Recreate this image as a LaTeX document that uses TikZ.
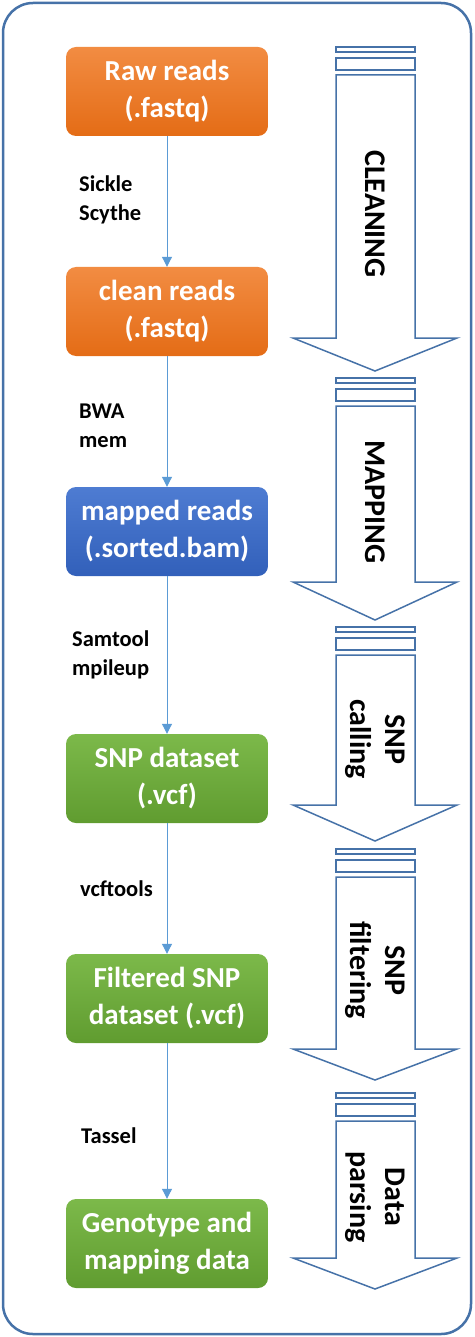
\documentclass[tikz,border=0pt]{standalone}
\usepackage{fontspec}
\setmainfont{Carlito}
\usepackage{tikz}
\usetikzlibrary{arrows.meta, positioning}
\definecolor{framecol}{RGB}{70,114,168}
\definecolor{flowcol}{RGB}{91,155,213}
\definecolor{orangetop}{RGB}{242,140,66}
\definecolor{orangebot}{RGB}{228,108,22}
\definecolor{bluetop}{RGB}{78,124,210}
\definecolor{bluebot}{RGB}{50,96,186}
\definecolor{greentop}{RGB}{124,185,74}
\definecolor{greenbot}{RGB}{96,156,48}
\tikzstyle{databox}   = [rectangle, rounded corners=10pt, minimum width=202pt, minimum height=89pt, align=center, text=white, font=\fontsize{29}{37}\selectfont\bfseries]
\tikzstyle{orangebox} = [databox, top color=orangetop, bottom color=orangebot]
\tikzstyle{bluebox}   = [databox, top color=bluetop, bottom color=bluebot]
\tikzstyle{greenbox}  = [databox, top color=greentop, bottom color=greenbot]
\tikzstyle{tool}      = [anchor=west, align=left, inner sep=0pt, font=\fontsize{22.5}{29}\selectfont\bfseries]
\tikzstyle{flow}      = [flowcol, line width=1pt, -{Triangle[width=10pt,length=10pt]}]
\tikzstyle{stage}     = [framecol, line width=1.5pt, fill=white, line join=miter]
\tikzstyle{stagetext} = [rotate=-90, align=center, inner sep=0pt, font=\fontsize{30}{35}\selectfont\bfseries]

\begin{document}
\begin{tikzpicture}[x=1pt, y=1pt, node distance=220pt]
    \useasboundingbox (0,0) rectangle (474,-1337);
    % Frame
    \draw [framecol, line width=2.5pt, rounded corners=30pt] (3,-3) rectangle (471,-1334);

    % Nodes
    \node (raw_reads)      [orangebox] at (167,-91.5)                 {Raw reads\\(.fastq)};
    \node (clean_reads)    [orangebox, below of=raw_reads]            {clean reads\\(.fastq)};
    \node (mapped_reads)   [bluebox, below of=clean_reads]            {mapped reads\\(.sorted.bam)};
    \node (snp_dataset)    [greenbox, below of=mapped_reads, yshift=-27pt] {SNP dataset\\(.vcf)};
    \node (filtered_snp)   [greenbox, below of=snp_dataset]           {Filtered SNP\\dataset (.vcf)};
    \node (genotype_data)  [greenbox, below of=filtered_snp, yshift=-25pt] {Genotype and\\mapping data};

    % Tools
    \node (tool_sickle)    [tool] at (79,-200)  {Sickle\\Scythe};
    \node (tool_bwa)       [tool] at (79,-426)  {BWA\\mem};
    \node (tool_samtool)   [tool] at (72,-655)  {Samtool\\mpileup};
    \node (tool_vcftools)  [tool] at (80,-889)  {vcftools};
    \node (tool_tassel)    [tool] at (81,-1136) {Tassel};

    % Arrows
    \draw [flow] (raw_reads)     -- (clean_reads);
    \draw [flow] (clean_reads)   -- (mapped_reads);
    \draw [flow] (mapped_reads)  -- (snp_dataset);
    \draw [flow] (snp_dataset)   -- (filtered_snp);
    \draw [flow] (filtered_snp)  -- (genotype_data);

    % Stages on the right
    \foreach \ytop/\ybase/\ytip/\ytext/\stagename [count=\i] in
      {47/338/371/214/CLEANING, 378/582/620/502/MAPPING, 627/805/841/739/{SNP\\calling},
       849/1049/1080/970/{SNP\\filtering}, 1093/1258/1289/1197/{Data\\parsing}} {
      \draw [stage] (336,-\ytop) rectangle (415,-\ytop-5);
      \draw [stage] (336,-\ytop-11) rectangle (415,-\ytop-23);
      \draw [stage] (336,-\ytop-28) -- (415,-\ytop-28) -- (415,-\ybase) -- (457,-\ybase)
                    -- (375,-\ytip) -- (293,-\ybase) -- (336,-\ybase) -- cycle;
      \node (stage\i) [stagetext] at (375,-\ytext) {\stagename};
    }
\end{tikzpicture}
\end{document}
